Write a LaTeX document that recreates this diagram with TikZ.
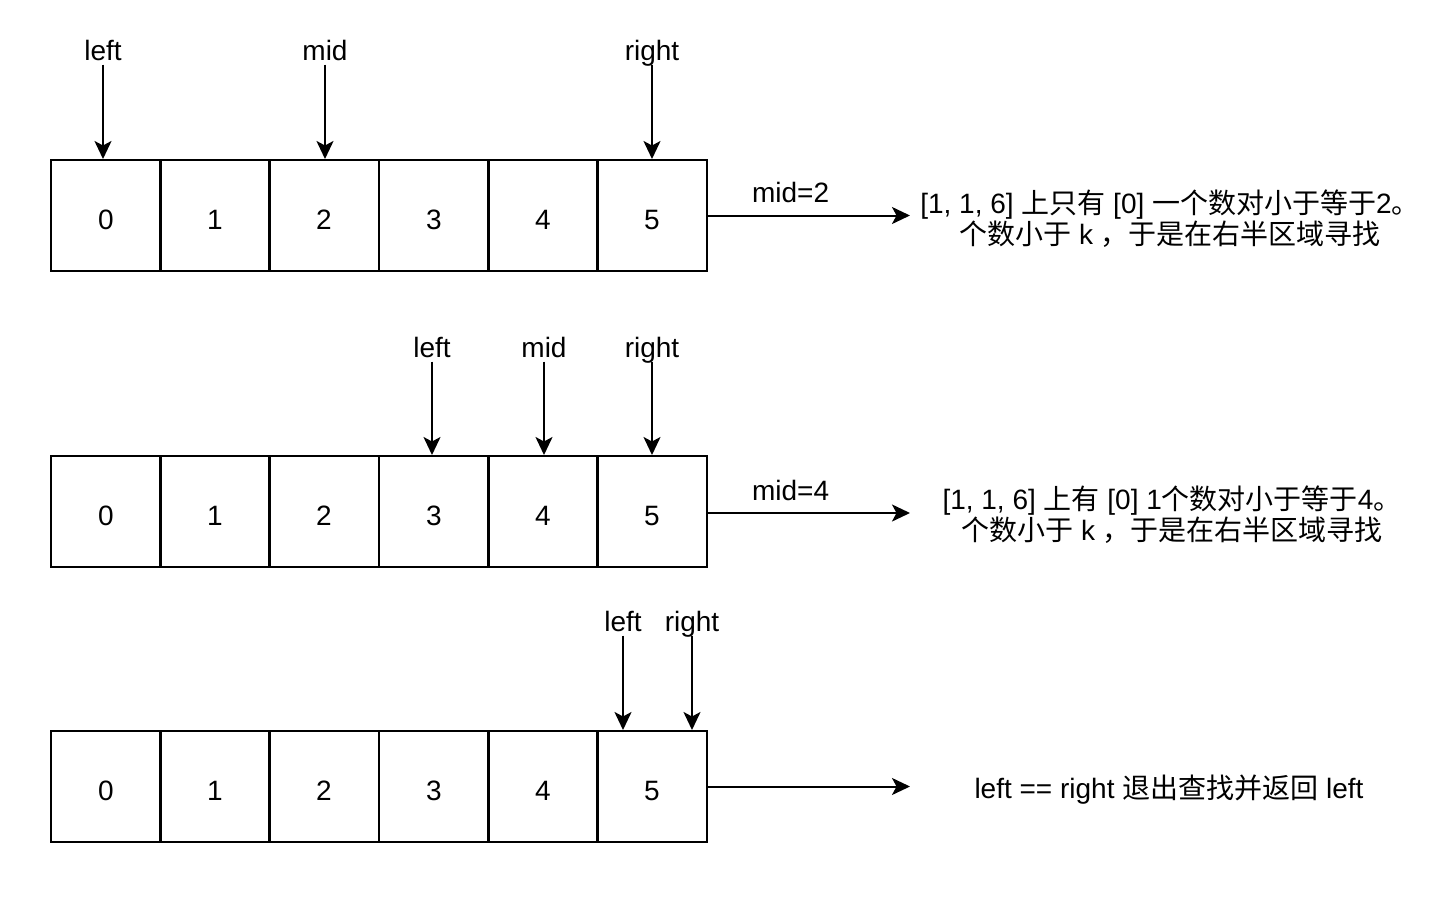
\documentclass[tikz,border=0pt]{standalone}
\usepackage{fontspec}
\setmainfont{Liberation Sans}
\newfontfamily\cjk{Noto Sans CJK SC}
\newcommand{\zh}[1]{{\cjk #1}}
\usetikzlibrary{positioning}
\usetikzlibrary{arrows.meta}

\tikzset{
	cell/.style={draw, line width=2pt, minimum width=109.3pt, minimum height=111pt, inner sep=0pt, text height=27pt, text depth=0pt},
	ptr/.style={anchor=base, text depth=0.25em, inner sep=2pt},
	link/.style={line width=2pt, -{Stealth[length=18pt,width=17pt,inset=4.5pt]}},
	note/.style={align=center, inner sep=0pt}
}

\begin{document}
\begin{tikzpicture}[x=1pt, y=-1pt, font=\fontsize{28}{31}\selectfont]
					\useasboundingbox (0,0) rectangle (1444,918);

					% first step
					\node[cell] (c10) at (106,215.5) {0};
					\node[cell] (c11) at (215,215.5) {1};
					\node[cell] (c12) at (324,215.5) {2};
					\node[cell] (c13) at (434,215.5) {3};
					\node[cell] (c14) at (543,215.5) {4};
					\node[cell] (c15) at (652,215.5) {5};

					\node[ptr] (l1) at (103,60) {left};
					\node[ptr] (m1) at (325,60) {mid};
					\node[ptr] (r1) at (652,60) {right};

					\coordinate (e1) at (910,215.5);
					\node[note] (t1) at (1170,219) {[1, 1, 6] \zh{上只有} [0] \zh{一个数对小于等于}2\zh{。}\\\zh{个数小于} k \zh{，于是在右半区域寻找}};

					\draw[link] (l1.south) -- (l1.south |- c10.north);
					\draw[link] (m1.south) -- (m1.south |- c12.north);
					\draw[link] (r1.south) -- (r1.south |- c15.north);
					\draw[link] (c15.east) -- node[pos=0.41, anchor=base, yshift=13pt] {mid=2} (e1);

					% second step
					\node[cell] (c20) at (106,511.5) {0};
					\node[cell] (c21) at (215,511.5) {1};
					\node[cell] (c22) at (324,511.5) {2};
					\node[cell] (c23) at (434,511.5) {3};
					\node[cell] (c24) at (543,511.5) {4};
					\node[cell] (c25) at (652,511.5) {5};

					\node[ptr] (l2) at (432,357) {left};
					\node[ptr] (m2) at (544,357) {mid};
					\node[ptr] (r2) at (652,357) {right};

					\coordinate (e2) at (910,513);
					\node[note] (t2) at (1172,515) {[1, 1, 6] \zh{上有} [0] 1\zh{个数对小于等于}4\zh{。}\\\zh{个数小于} k \zh{，于是在右半区域寻找}};

					\draw[link] (l2.south) -- (l2.south |- c23.north);
					\draw[link] (m2.south) -- (m2.south |- c24.north);
					\draw[link] (r2.south) -- (r2.south |- c25.north);
					\draw[link] (c25.east |- e2) -- node[pos=0.41, anchor=base, yshift=13pt] {mid=4} (e2);

					% last step
					\node[cell] (c30) at (106,786.5) {0};
					\node[cell] (c31) at (215,786.5) {1};
					\node[cell] (c32) at (324,786.5) {2};
					\node[cell] (c33) at (434,786.5) {3};
					\node[cell] (c34) at (543,786.5) {4};
					\node[cell] (c35) at (652,786.5) {5};

					\node[ptr] (l3) at (623,631) {left};
					\node[ptr] (r3) at (692,631) {right};

					\coordinate (e3) at (910,786.5);
					\node[note] (t3) at (1169,790) {left == right \zh{退出查找并返回} left};

					\draw[link] (l3.south) -- (l3.south |- c35.north);
					\draw[link] (r3.south) -- (r3.south |- c35.north);
					\draw[link] (c35.east) -- (e3);

				\end{tikzpicture}
\end{document}
